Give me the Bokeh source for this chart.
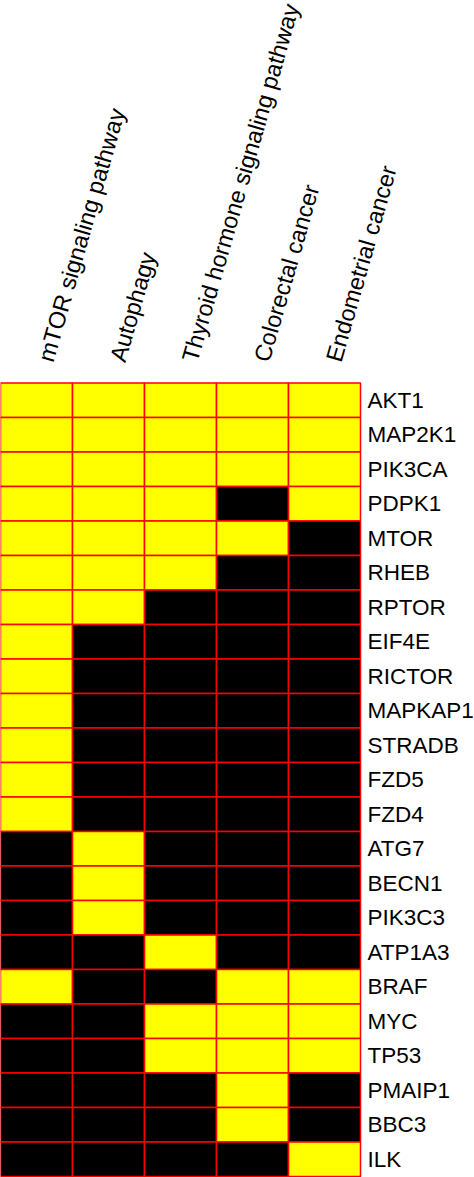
import math
from bokeh.plotting import figure
from bokeh.models import ColumnDataSource, Range1d
from bokeh.core.properties import value
from bokeh.embed import file_html
from bokeh.resources import INLINE

# Pathways (columns) and genes (rows)
pathways = ["mTOR signaling pathway", "Autophagy", "Thyroid hormone signaling pathway",
            "Colorectal cancer", "Endometrial cancer"]
genes = ["AKT1", "MAP2K1", "PIK3CA", "PDPK1", "MTOR", "RHEB", "RPTOR", "EIF4E", "RICTOR",
         "MAPKAP1", "STRADB", "FZD5", "FZD4", "ATG7", "BECN1", "PIK3C3", "ATP1A3", "BRAF",
         "MYC", "TP53", "PMAIP1", "BBC3", "ILK"]

# Membership of each gene in each pathway (1 = member)
mtor_signaling = [1, 1, 1, 1, 1, 1, 1, 1, 1, 1, 1, 1, 1, 0, 0, 0, 0, 1, 0, 0, 0, 0, 0]
autophagy      = [1, 1, 1, 1, 1, 1, 1, 0, 0, 0, 0, 0, 0, 1, 1, 1, 0, 0, 0, 0, 0, 0, 0]
thyroid        = [1, 1, 1, 1, 1, 1, 0, 0, 0, 0, 0, 0, 0, 0, 0, 0, 1, 0, 1, 1, 0, 0, 0]
colorectal     = [1, 1, 1, 0, 1, 0, 0, 0, 0, 0, 0, 0, 0, 0, 0, 0, 0, 1, 1, 1, 1, 1, 0]
endometrial    = [1, 1, 1, 1, 0, 0, 0, 0, 0, 0, 0, 0, 0, 0, 0, 0, 0, 1, 1, 1, 0, 0, 1]
membership = [mtor_signaling, autophagy, thyroid, colorectal, endometrial]

W, H = 474, 1177
CELL_W, CELL_H = 72.0, 34.5
TOP = 382.5

xs, ys, colors = [], [], []
for j, col in enumerate(membership):
    for i, v in enumerate(col):
        xs.append(j + 0.5)
        ys.append(i + 0.5)
        colors.append("#FFFF00" if v else "#000000")

p = figure(width=W, height=H, output_backend="svg", toolbar_location=None,
           x_range=Range1d(0, W / CELL_W),
           y_range=Range1d((H - TOP) / CELL_H, -TOP / CELL_H),
           min_border=0, outline_line_color=None, background_fill_color="white")
p.axis.visible = False
p.grid.visible = False

cells = ColumnDataSource(dict(x=xs, y=ys, c=colors))
p.rect(x="x", y="y", width=1, height=1, source=cells, fill_color="c",
       line_color="#FF0000", line_width=1.5)

font = value("Liberation Sans")

# Gene labels to the right of the grid
rows = ColumnDataSource(dict(x=[len(pathways) + 7.0 / CELL_W] * len(genes),
                             y=[i + 0.5 for i in range(len(genes))], t=genes))
p.text(x="x", y="y", text="t", source=rows, text_font=font, text_font_size="22.5px",
       text_baseline="middle", text_align="left", text_color="black")

# Slanted pathway labels above the grid
cols = ColumnDataSource(dict(x=[j + 0.5 + 9 / CELL_W for j in range(len(pathways))],
                             y=[-22.0 / CELL_H] * len(pathways), t=pathways))
p.text(x="x", y="y", text="t", source=cols, text_font=font, text_font_size="23.5px",
       angle=math.radians(74), text_baseline="alphabetic", text_align="left",
       text_color="black")

open("out.html", "w").write(file_html(p, INLINE))
